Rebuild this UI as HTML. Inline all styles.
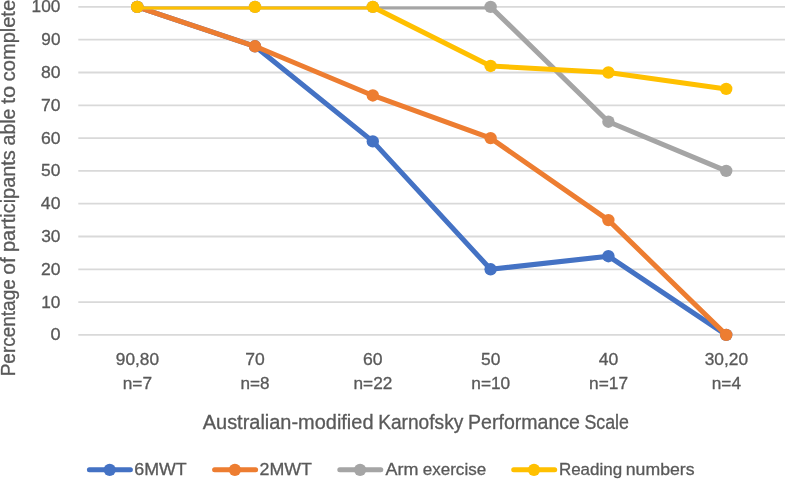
<!DOCTYPE html>
<html lang="en"><head><meta charset="utf-8"><title>Chart</title>
<style>
html,body{margin:0;padding:0;background:#fff;}
body{width:785px;height:479px;overflow:hidden;}
svg{display:block;}
text{font-family:"Liberation Sans",sans-serif;fill:#595959;stroke:#595959;stroke-width:0.3;}
</style></head><body>
<svg width="785" height="479" viewBox="0 0 785 479">
<rect width="785" height="479" fill="#ffffff"/>
<defs><clipPath id="plot"><rect x="78.3" y="6.6" width="706.7" height="329.1"/></clipPath></defs>
<g stroke="#D9D9D9" stroke-width="1.8">
<line x1="78.3" x2="785" y1="334.90" y2="334.90"/>
<line x1="78.3" x2="785" y1="302.10" y2="302.10"/>
<line x1="78.3" x2="785" y1="269.30" y2="269.30"/>
<line x1="78.3" x2="785" y1="236.50" y2="236.50"/>
<line x1="78.3" x2="785" y1="203.70" y2="203.70"/>
<line x1="78.3" x2="785" y1="170.90" y2="170.90"/>
<line x1="78.3" x2="785" y1="138.10" y2="138.10"/>
<line x1="78.3" x2="785" y1="105.30" y2="105.30"/>
<line x1="78.3" x2="785" y1="72.50" y2="72.50"/>
<line x1="78.3" x2="785" y1="39.70" y2="39.70"/>
<line x1="78.3" x2="785" y1="6.90" y2="6.90"/>
</g>
<g font-size="16.4">
<text y="340.30"><tspan x="50.41" textLength="10.10" lengthAdjust="spacingAndGlyphs">0</tspan></text>
<text y="307.50"><tspan x="41.29" textLength="19.19" lengthAdjust="spacingAndGlyphs">10</tspan></text>
<text y="274.70"><tspan x="40.93" textLength="19.56" lengthAdjust="spacingAndGlyphs">20</tspan></text>
<text y="241.90"><tspan x="41.18" textLength="19.30" lengthAdjust="spacingAndGlyphs">30</tspan></text>
<text y="209.10"><tspan x="40.88" textLength="19.61" lengthAdjust="spacingAndGlyphs">40</tspan></text>
<text y="176.30"><tspan x="41.13" textLength="19.36" lengthAdjust="spacingAndGlyphs">50</tspan></text>
<text y="143.50"><tspan x="40.92" textLength="19.57" lengthAdjust="spacingAndGlyphs">60</tspan></text>
<text y="110.70"><tspan x="40.97" textLength="19.52" lengthAdjust="spacingAndGlyphs">70</tspan></text>
<text y="77.90"><tspan x="40.96" textLength="19.53" lengthAdjust="spacingAndGlyphs">80</tspan></text>
<text y="45.10"><tspan x="41.37" textLength="19.10" lengthAdjust="spacingAndGlyphs">90</tspan></text>
<text y="12.30"><tspan x="31.62" textLength="28.86" lengthAdjust="spacingAndGlyphs">100</tspan></text>
</g>
<polyline points="137.20,6.90 255.00,46.26 372.80,141.38 490.60,269.30 608.40,256.18 726.20,334.90" fill="none" stroke="#4472C4" stroke-width="5" stroke-linejoin="round" stroke-linecap="round" clip-path="url(#plot)"/>
<g fill="#4472C4"><circle cx="137.20" cy="6.90" r="6.2"/><circle cx="255.00" cy="46.26" r="6.2"/><circle cx="372.80" cy="141.38" r="6.2"/><circle cx="490.60" cy="269.30" r="6.2"/><circle cx="608.40" cy="256.18" r="6.2"/><circle cx="726.20" cy="334.90" r="6.2"/></g>
<polyline points="137.20,6.90 255.00,46.26 372.80,95.46 490.60,138.10 608.40,220.10 726.20,334.90" fill="none" stroke="#ED7D31" stroke-width="5" stroke-linejoin="round" stroke-linecap="round" clip-path="url(#plot)"/>
<g fill="#ED7D31"><circle cx="137.20" cy="6.90" r="6.2"/><circle cx="255.00" cy="46.26" r="6.2"/><circle cx="372.80" cy="95.46" r="6.2"/><circle cx="490.60" cy="138.10" r="6.2"/><circle cx="608.40" cy="220.10" r="6.2"/><circle cx="726.20" cy="334.90" r="6.2"/></g>
<polyline points="137.20,6.90 255.00,6.90 372.80,6.90 490.60,6.90 608.40,121.70 726.20,170.90" fill="none" stroke="#A5A5A5" stroke-width="5" stroke-linejoin="round" stroke-linecap="round" clip-path="url(#plot)"/>
<g fill="#A5A5A5"><circle cx="137.20" cy="6.90" r="6.2"/><circle cx="255.00" cy="6.90" r="6.2"/><circle cx="372.80" cy="6.90" r="6.2"/><circle cx="490.60" cy="6.90" r="6.2"/><circle cx="608.40" cy="121.70" r="6.2"/><circle cx="726.20" cy="170.90" r="6.2"/></g>
<polyline points="137.20,6.90 255.00,6.90 372.80,6.90 490.60,65.94 608.40,72.50 726.20,88.90" fill="none" stroke="#FFC000" stroke-width="5" stroke-linejoin="round" stroke-linecap="round" clip-path="url(#plot)"/>
<g fill="#FFC000"><circle cx="137.20" cy="6.90" r="6.2"/><circle cx="255.00" cy="6.90" r="6.2"/><circle cx="372.80" cy="6.90" r="6.2"/><circle cx="490.60" cy="65.94" r="6.2"/><circle cx="608.40" cy="72.50" r="6.2"/><circle cx="726.20" cy="88.90" r="6.2"/></g>
<g font-size="16.4">
<text y="365.40"><tspan x="115.89" textLength="43.21" lengthAdjust="spacingAndGlyphs">90,80</tspan></text>
<text y="388.80"><tspan x="122.76" textLength="29.29" lengthAdjust="spacingAndGlyphs">n=7</tspan></text>
<text y="365.40"><tspan x="245.34" textLength="19.52" lengthAdjust="spacingAndGlyphs">70</tspan></text>
<text y="388.80"><tspan x="240.57" textLength="29.01" lengthAdjust="spacingAndGlyphs">n=8</tspan></text>
<text y="365.40"><tspan x="363.09" textLength="19.57" lengthAdjust="spacingAndGlyphs">60</tspan></text>
<text y="388.80"><tspan x="353.53" textLength="38.76" lengthAdjust="spacingAndGlyphs">n=22</tspan></text>
<text y="365.40"><tspan x="481.10" textLength="19.36" lengthAdjust="spacingAndGlyphs">50</tspan></text>
<text y="388.80"><tspan x="471.32" textLength="38.89" lengthAdjust="spacingAndGlyphs">n=10</tspan></text>
<text y="365.40"><tspan x="598.65" textLength="19.61" lengthAdjust="spacingAndGlyphs">40</tspan></text>
<text y="388.80"><tspan x="589.12" textLength="38.97" lengthAdjust="spacingAndGlyphs">n=17</tspan></text>
<text y="365.40"><tspan x="704.70" textLength="43.40" lengthAdjust="spacingAndGlyphs">30,20</tspan></text>
<text y="388.80"><tspan x="711.76" textLength="29.23" lengthAdjust="spacingAndGlyphs">n=4</tspan></text>
</g>
<g font-size="19.3"><text y="428.60"><tspan x="202.76" textLength="170.75" lengthAdjust="spacingAndGlyphs">Australian-modified</tspan> <tspan x="378.22" textLength="85.05" lengthAdjust="spacingAndGlyphs">Karnofsky</tspan> <tspan x="468.09" textLength="111.86" lengthAdjust="spacingAndGlyphs">Performance</tspan> <tspan x="584.40" textLength="44.54" lengthAdjust="spacingAndGlyphs">Scale</tspan></text></g>
<g font-size="19.6" transform="translate(14.9,374.8) rotate(-90)"><text y="0.00"><tspan x="-1.56" textLength="97.13" lengthAdjust="spacingAndGlyphs">Percentage</tspan> <tspan x="100.16" textLength="17.52" lengthAdjust="spacingAndGlyphs">of</tspan> <tspan x="122.80" textLength="101.80" lengthAdjust="spacingAndGlyphs">participants</tspan> <tspan x="229.42" textLength="36.64" lengthAdjust="spacingAndGlyphs">able</tspan> <tspan x="270.76" textLength="18.35" lengthAdjust="spacingAndGlyphs">to</tspan> <tspan x="293.60" textLength="81.28" lengthAdjust="spacingAndGlyphs">complete</tspan></text></g>
<line x1="89.4" x2="130.4" y1="469.85" y2="469.85" stroke="#4472C4" stroke-width="5" stroke-linecap="round"/>
<circle cx="109.7" cy="469.85" r="6.1" fill="#4472C4"/>
<g font-size="16.4"><text y="475.25"><tspan x="134.29" textLength="52.49" lengthAdjust="spacingAndGlyphs">6MWT</tspan></text></g>
<line x1="214.6" x2="255.6" y1="469.85" y2="469.85" stroke="#ED7D31" stroke-width="5" stroke-linecap="round"/>
<circle cx="234.9" cy="469.85" r="6.1" fill="#ED7D31"/>
<g font-size="16.4"><text y="475.25"><tspan x="259.50" textLength="52.48" lengthAdjust="spacingAndGlyphs">2MWT</tspan></text></g>
<line x1="339.8" x2="380.8" y1="469.85" y2="469.85" stroke="#A5A5A5" stroke-width="5" stroke-linecap="round"/>
<circle cx="360.1" cy="469.85" r="6.1" fill="#A5A5A5"/>
<g font-size="16.4"><text y="475.25"><tspan x="385.56" textLength="32.86" lengthAdjust="spacingAndGlyphs">Arm</tspan> <tspan x="422.75" textLength="63.40" lengthAdjust="spacingAndGlyphs">exercise</tspan></text></g>
<line x1="513.7" x2="554.7" y1="469.85" y2="469.85" stroke="#FFC000" stroke-width="5" stroke-linecap="round"/>
<circle cx="534.0" cy="469.85" r="6.1" fill="#FFC000"/>
<g font-size="16.4"><text y="475.25"><tspan x="558.91" textLength="63.18" lengthAdjust="spacingAndGlyphs">Reading</tspan> <tspan x="625.78" textLength="68.79" lengthAdjust="spacingAndGlyphs">numbers</tspan></text></g>
</svg>
</body></html>
